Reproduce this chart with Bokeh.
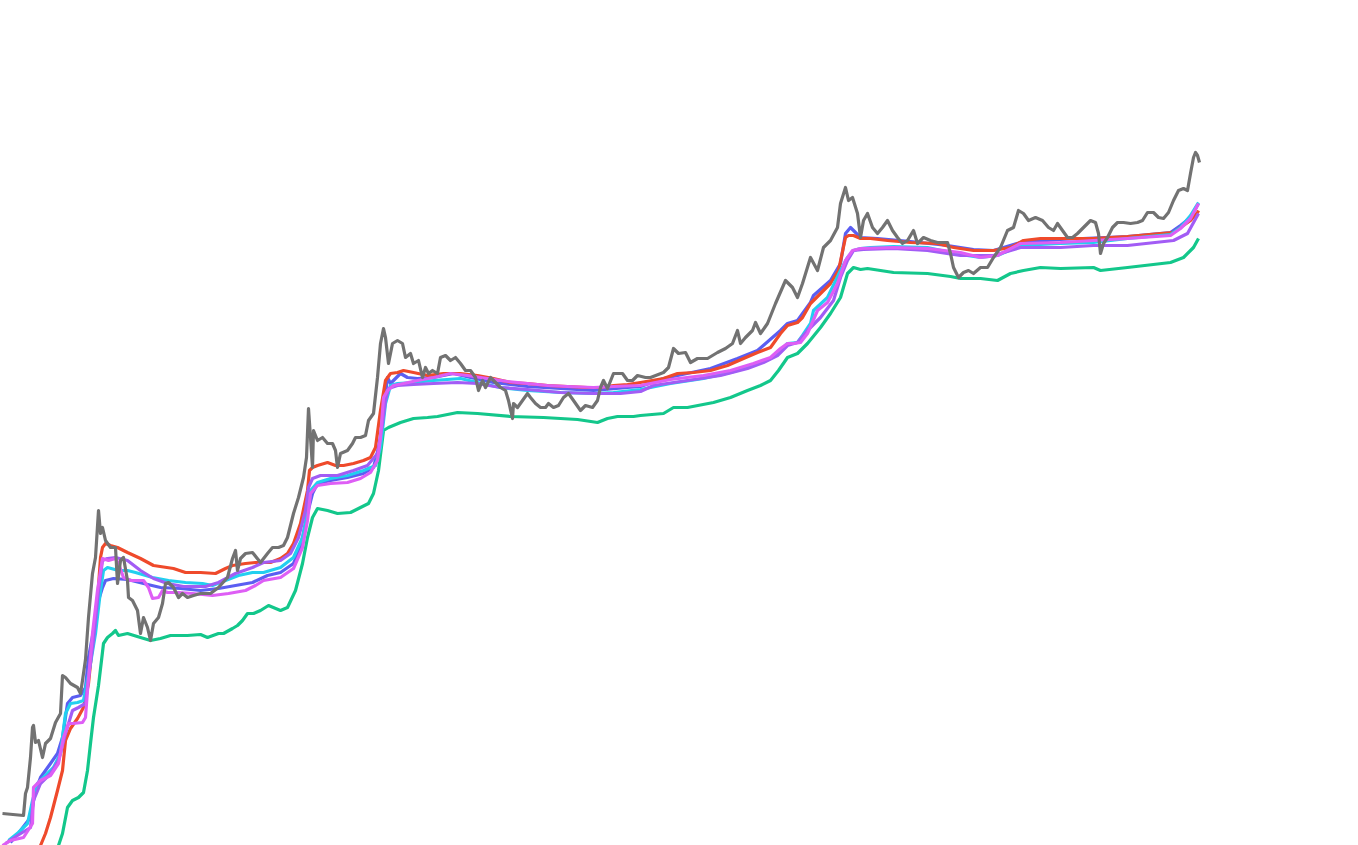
from bokeh.plotting import figure
from bokeh.models import Range1d
from bokeh.embed import file_html
from bokeh.resources import INLINE

# Time index (weeks) and log-price values (hundredths of a decade)
price_t = [2, 23, 25, 27, 30, 32, 33, 35, 38, 42, 45, 50, 55, 60, 62, 65, 70, 77, 80, 82, 85, 88, 92, 95, 98, 100, 102, 105, 110, 115, 117, 120, 123, 127, 128, 132, 137, 140, 143, 147, 150, 153, 158, 162, 165, 168, 173, 178, 182, 187, 193, 200, 210, 218, 227, 232, 235, 237, 240, 245, 252, 260, 267, 272, 278, 283, 287, 293, 298, 303, 306, 308, 310, 312, 313, 317, 322, 327, 332, 335, 337, 340, 347, 352, 355, 360, 365, 368, 373, 377, 380, 383, 385, 388, 392, 397, 402, 405, 410, 413, 418, 422, 425, 428, 432, 437, 440, 445, 450, 455, 460, 465, 470, 475, 478, 482, 485, 490, 493, 500, 505, 508, 512, 513, 517, 522, 527, 530, 535, 540, 545, 548, 553, 558, 563, 568, 573, 580, 585, 592, 597, 600, 603, 607, 613, 622, 627, 632, 637, 645, 650, 663, 668, 673, 678, 685, 690, 697, 707, 717, 725, 732, 737, 740, 745, 752, 755, 760, 767, 775, 785, 792, 797, 802, 810, 817, 823, 830, 837, 840, 845, 848, 852, 857, 860, 863, 867, 872, 877, 882, 887, 892, 897, 902, 907, 913, 917, 923, 930, 937, 947, 950, 953, 958, 963, 968, 973, 980, 987, 993, 1000, 1007, 1013, 1018, 1023, 1028, 1035, 1042, 1048, 1053, 1057, 1062, 1067, 1072, 1077, 1083, 1090, 1095, 1098, 1100, 1103, 1107, 1112, 1117, 1123, 1130, 1137, 1142, 1147, 1153, 1158, 1163, 1168, 1173, 1178, 1183, 1187, 1190, 1193, 1195, 1197, 1199]
price_v = [32, 30, 52, 58, 88, 118, 120, 103, 105, 88, 102, 107, 123, 132, 170, 168, 162, 158, 152, 165, 186, 228, 272, 288, 335, 312, 318, 305, 298, 298, 262, 285, 288, 265, 248, 245, 235, 212, 228, 218, 205, 222, 228, 242, 262, 263, 258, 248, 252, 248, 250, 252, 252, 258, 268, 287, 295, 275, 287, 292, 293, 283, 292, 298, 298, 300, 308, 332, 348, 368, 388, 437, 408, 378, 415, 405, 408, 402, 402, 395, 378, 392, 395, 402, 408, 408, 410, 425, 432, 468, 502, 517, 508, 482, 502, 505, 502, 488, 492, 482, 485, 468, 478, 472, 475, 472, 488, 490, 485, 488, 482, 475, 475, 468, 455, 465, 458, 468, 465, 458, 455, 445, 427, 442, 438, 445, 452, 448, 442, 438, 438, 442, 438, 440, 448, 452, 445, 435, 440, 438, 445, 458, 465, 457, 472, 472, 465, 465, 470, 468, 468, 473, 478, 497, 492, 493, 483, 487, 487, 493, 497, 502, 515, 502, 508, 515, 523, 512, 522, 542, 565, 558, 548, 562, 588, 575, 598, 605, 618, 642, 658, 645, 648, 632, 608, 625, 632, 618, 612, 618, 625, 615, 608, 602, 605, 615, 602, 608, 605, 603, 603, 592, 578, 568, 573, 575, 572, 578, 578, 588, 598, 615, 618, 635, 632, 625, 628, 625, 618, 615, 622, 615, 608, 608, 612, 618, 625, 623, 612, 592, 602, 608, 618, 623, 623, 622, 623, 625, 633, 633, 628, 627, 633, 645, 655, 657, 655, 672, 688, 693, 690, 683]

red_t = [40, 45, 50, 57, 62, 65, 70, 77, 83, 86, 88, 93, 97, 100, 102, 105, 110, 117, 127, 140, 153, 173, 185, 200, 215, 225, 232, 245, 255, 270, 280, 287, 293, 300, 307, 309, 312, 317, 327, 335, 343, 353, 363, 370, 375, 380, 385, 390, 397, 403, 413, 427, 443, 460, 477, 493, 510, 527, 547, 567, 587, 600, 613, 627, 640, 663, 677, 693, 710, 727, 743, 757, 770, 780, 787, 797, 802, 810, 820, 830, 838, 845, 848, 853, 860, 870, 887, 910, 937, 953, 973, 993, 1010, 1023, 1040, 1060, 1093, 1127, 1160, 1173, 1180, 1190, 1197, 1198]
red_v = [0, 12, 28, 55, 75, 105, 117, 127, 138, 152, 162, 212, 245, 288, 298, 302, 300, 298, 293, 287, 280, 277, 273, 273, 272, 277, 280, 282, 283, 283, 287, 292, 302, 322, 355, 375, 378, 380, 383, 380, 380, 382, 385, 388, 398, 435, 465, 472, 473, 475, 473, 470, 472, 472, 470, 467, 463, 462, 460, 459, 458, 458, 460, 461, 463, 467, 472, 473, 475, 480, 487, 493, 498, 512, 520, 523, 528, 542, 552, 562, 575, 608, 610, 610, 607, 607, 605, 603, 602, 598, 595, 595, 598, 605, 607, 607, 607, 609, 612, 613, 618, 625, 633, 635]

blue_t = [10, 20, 30, 35, 40, 50, 57, 62, 67, 72, 80, 85, 88, 93, 98, 102, 105, 113, 127, 143, 160, 180, 200, 218, 235, 252, 267, 280, 293, 300, 307, 312, 317, 330, 347, 363, 373, 380, 383, 387, 390, 393, 400, 407, 417, 433, 453, 470, 493, 527, 560, 593, 627, 640, 663, 710, 737, 757, 780, 787, 797, 810, 813, 830, 840, 845, 850, 855, 860, 877, 910, 947, 973, 993, 1020, 1060, 1127, 1170, 1180, 1190, 1198]
blue_v = [3, 15, 28, 55, 68, 82, 92, 108, 142, 148, 150, 158, 188, 215, 245, 258, 265, 267, 266, 262, 258, 257, 255, 257, 260, 263, 270, 273, 282, 298, 332, 352, 362, 365, 368, 372, 378, 405, 435, 468, 462, 465, 472, 468, 467, 468, 472, 468, 463, 459, 457, 455, 458, 459, 467, 477, 487, 495, 515, 522, 525, 543, 550, 565, 582, 612, 618, 613, 608, 607, 604, 600, 596, 595, 603, 606, 609, 613, 620, 628, 642]

cyan_t = [8, 18, 27, 32, 37, 43, 53, 60, 65, 70, 77, 83, 90, 95, 100, 103, 107, 118, 127, 135, 152, 168, 185, 202, 212, 225, 238, 252, 263, 280, 293, 302, 307, 310, 317, 330, 347, 363, 375, 380, 385, 390, 397, 413, 433, 460, 477, 500, 527, 560, 593, 613, 640, 670, 703, 730, 753, 770, 780, 787, 797, 802, 810, 813, 827, 840, 847, 853, 860, 870, 893, 927, 960, 980, 997, 1020, 1060, 1093, 1127, 1170, 1180, 1190, 1198]
cyan_v = [5, 13, 22, 45, 62, 68, 78, 92, 132, 142, 143, 145, 182, 212, 255, 275, 278, 275, 275, 273, 268, 265, 263, 262, 260, 265, 270, 273, 273, 278, 288, 308, 332, 355, 363, 367, 370, 375, 380, 398, 442, 460, 462, 463, 465, 467, 463, 458, 455, 453, 452, 453, 456, 462, 467, 473, 480, 487, 495, 502, 503, 510, 522, 535, 548, 575, 588, 595, 597, 598, 599, 598, 591, 588, 590, 600, 602, 603, 607, 611, 618, 630, 643]

purple_t = [5, 17, 30, 33, 40, 50, 58, 65, 72, 78, 85, 88, 93, 98, 102, 107, 115, 127, 140, 153, 167, 183, 205, 218, 235, 252, 263, 280, 290, 298, 305, 308, 312, 320, 337, 353, 367, 377, 382, 385, 388, 397, 413, 433, 457, 477, 500, 527, 560, 593, 620, 640, 653, 687, 720, 747, 763, 777, 787, 797, 807, 820, 833, 840, 847, 853, 863, 893, 927, 960, 993, 1020, 1060, 1093, 1127, 1173, 1187, 1198]
purple_v = [2, 10, 18, 45, 62, 72, 85, 112, 135, 138, 142, 168, 205, 255, 285, 287, 288, 285, 275, 267, 262, 259, 259, 263, 272, 278, 283, 285, 292, 308, 335, 358, 367, 370, 370, 375, 380, 392, 422, 445, 457, 460, 461, 462, 463, 462, 458, 456, 453, 452, 452, 454, 460, 465, 470, 477, 483, 490, 500, 503, 515, 528, 545, 568, 585, 595, 596, 597, 595, 590, 590, 598, 598, 600, 600, 605, 612, 632]

magenta_t = [2, 10, 23, 32, 33, 40, 50, 58, 63, 68, 72, 82, 85, 87, 92, 97, 102, 108, 115, 118, 123, 130, 143, 148, 152, 158, 162, 167, 178, 192, 212, 228, 245, 255, 263, 280, 293, 302, 307, 310, 317, 330, 347, 360, 370, 377, 380, 383, 387, 393, 403, 417, 433, 450, 467, 487, 507, 527, 547, 567, 593, 613, 640, 670, 703, 730, 753, 770, 780, 787, 793, 800, 807, 817, 827, 837, 845, 852, 860, 893, 927, 960, 980, 997, 1020, 1060, 1093, 1127, 1170, 1180, 1190, 1198]
magenta_v = [0, 5, 8, 22, 58, 65, 70, 82, 108, 122, 122, 123, 128, 155, 212, 255, 287, 285, 287, 282, 268, 265, 265, 258, 247, 248, 255, 253, 253, 252, 250, 252, 255, 260, 265, 268, 277, 298, 325, 352, 360, 362, 363, 367, 373, 385, 408, 448, 455, 460, 462, 465, 468, 472, 470, 467, 464, 462, 460, 459, 458, 459, 460, 466, 470, 475, 482, 488, 497, 502, 502, 503, 512, 535, 543, 562, 585, 595, 597, 598, 597, 593, 588, 590, 602, 603, 605, 607, 610, 617, 627, 642]

green_t = [58, 62, 67, 72, 78, 83, 87, 90, 93, 98, 101, 103, 107, 112, 115, 118, 127, 140, 150, 160, 170, 187, 200, 207, 218, 223, 232, 237, 242, 247, 253, 260, 268, 280, 287, 295, 302, 307, 312, 317, 327, 337, 350, 360, 368, 373, 378, 383, 388, 400, 413, 427, 437, 457, 477, 510, 543, 577, 597, 607, 617, 633, 640, 663, 673, 687, 713, 730, 747, 760, 770, 778, 787, 797, 807, 820, 830, 840, 847, 853, 860, 867, 893, 927, 950, 960, 980, 997, 1010, 1023, 1040, 1060, 1093, 1100, 1127, 1170, 1183, 1193, 1198]
green_v = [0, 12, 38, 45, 48, 53, 75, 102, 128, 160, 185, 202, 208, 212, 215, 210, 212, 208, 205, 207, 210, 210, 211, 208, 212, 212, 217, 220, 225, 232, 232, 235, 240, 235, 238, 255, 282, 308, 328, 337, 335, 332, 333, 338, 342, 352, 375, 415, 418, 423, 427, 428, 429, 433, 432, 429, 428, 426, 423, 427, 429, 429, 430, 432, 438, 438, 443, 448, 455, 460, 465, 475, 488, 492, 502, 518, 532, 548, 572, 578, 576, 577, 573, 572, 569, 567, 567, 565, 572, 575, 578, 577, 578, 575, 578, 583, 588, 598, 607]

p = figure(width=1358, height=845, output_backend="svg", toolbar_location=None,
           x_range=Range1d(0, 1358), y_range=Range1d(0, 845),
           min_border=0, min_border_left=0, min_border_right=0,
           min_border_top=0, min_border_bottom=0)
p.axis.visible = False
p.xgrid.visible = False
p.ygrid.visible = False
p.outline_line_color = None
p.background_fill_color = "white"
p.border_fill_color = "white"

lw = 3.2
p.line(green_t, green_v, line_color="#13C78B", line_width=lw, line_join="round")
p.line(blue_t, blue_v, line_color="#5B5EF2", line_width=lw, line_join="round")
p.line(red_t, red_v, line_color="#EF4A2B", line_width=lw, line_join="round")
p.line(cyan_t, cyan_v, line_color="#22CFEF", line_width=lw, line_join="round")
p.line(purple_t, purple_v, line_color="#A25CF5", line_width=lw, line_join="round")
p.line(magenta_t, magenta_v, line_color="#DE5EF5", line_width=lw, line_join="round")
p.line(price_t, price_v, line_color="#727272", line_width=lw, line_join="round")

open("out.html", "w").write(file_html(p, INLINE))
